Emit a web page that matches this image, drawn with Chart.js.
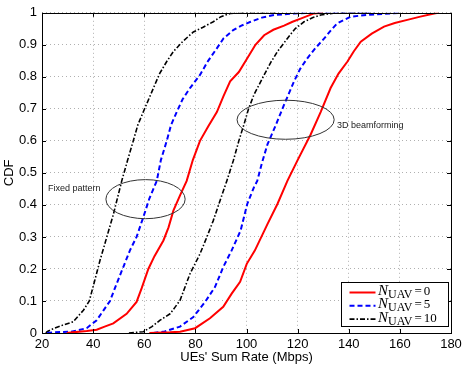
<!DOCTYPE html>
<html><head><meta charset="utf-8">
<script src="https://cdn.jsdelivr.net/npm/chart.js@4.4.1/dist/chart.umd.min.js"></script>
<style>html,body{margin:0;padding:0;background:#fff;}#wrap{width:474px;height:372px;}</style>
</head><body><div id="wrap"><canvas id="c" width="474" height="372"></canvas></div>
<script>
// ---- data ----
const xTicks = [20, 40, 60, 80, 100, 120, 140, 160, 180];
const yTicks = [0, 0.1, 0.2, 0.3, 0.4, 0.5, 0.6, 0.7, 0.8, 0.9, 1];
const legendLabels = ["0", "5", "10"];

// Fixed pattern, N_UAV = 10
const fixed10Rate = [21.5,22,24,28.3,32.2,36.2,38.5,40.5,42.7,45,47.9,51.2,53.5,55.7,57.5,59.6,63.6,66,68.8,71.4,75,79.2,83,87,90,93.6,100,112];
const fixed10Cdf  = [0,0.004,0.012,0.025,0.035,0.071,0.1,0.16,0.227,0.29,0.37,0.475,0.54,0.6,0.65,0.69,0.765,0.81,0.848,0.879,0.91,0.94,0.955,0.972,0.988,0.998,1,1];
// Fixed pattern, N_UAV = 5
const fixed5Rate = [22,24.4,31.4,37.5,39,41.4,44,46.6,49,51.8,54.4,57,59.6,62,64.9,66.5,68.8,70.5,72.7,75,77.9,81.8,85,88.4,91,94.8,98,101.6,106,110.8,118.6,125,150];
const fixed5Cdf  = [0,0.002,0.004,0.015,0.025,0.04,0.07,0.1,0.15,0.206,0.258,0.3,0.361,0.42,0.475,0.54,0.6,0.65,0.69,0.73,0.765,0.806,0.85,0.889,0.92,0.946,0.96,0.972,0.985,0.993,0.998,1,1];
// Fixed pattern, N_UAV = 0
const fixed0Rate = [29.7,32,37.5,41.4,44.5,47.9,53.1,57,59,61.6,64,67.5,69.5,71.4,74,76.6,79,81.8,85,88.4,91,93.6,97,100.3,103.5,106.9,110.5,114.7,118,121.2,126.4,130];
const fixed0Cdf  = [0,0.002,0.006,0.01,0.02,0.03,0.06,0.097,0.14,0.2,0.24,0.289,0.33,0.382,0.43,0.475,0.54,0.6,0.645,0.69,0.74,0.786,0.815,0.858,0.9,0.93,0.947,0.96,0.972,0.982,0.998,1];
// 3D beamforming, N_UAV = 10
const beam10Rate = [54,59.6,63,66.2,70.1,72,74,77.9,81.8,84.5,87,89.5,92.3,94.8,97,99,100.8,102.9,106.9,109.5,112.1,116,119,122.5,126,129,135,148];
const beam10Cdf  = [0,0.004,0.02,0.04,0.06,0.08,0.102,0.185,0.247,0.3,0.351,0.41,0.475,0.537,0.6,0.651,0.7,0.744,0.806,0.845,0.879,0.92,0.95,0.972,0.985,0.993,1,1];
// 3D beamforming, N_UAV = 5
const beam5Rate = [63.6,68,74,79.2,83.8,87.7,90.9,94.2,97.7,100.3,102.9,104.2,106,108.2,111.5,114.7,118.6,121,123.8,127,130.4,133,135.5,140.8,148,156.5,160];
const beam5Cdf  = [0,0.005,0.02,0.05,0.097,0.144,0.206,0.258,0.32,0.403,0.455,0.475,0.53,0.589,0.65,0.713,0.786,0.825,0.858,0.89,0.92,0.945,0.967,0.988,0.994,0.998,1];
// 3D beamforming, N_UAV = 0
const beam0Rate = [62,70,74,79.9,85.7,90.9,94.2,97.5,100.1,103.3,108.2,112.1,116,120,125.1,129,132.9,136,139.5,142,144.7,149,153.8,158,162.9,168,173.4,175];
const beam0Cdf  = [0,0.002,0.004,0.015,0.046,0.082,0.123,0.16,0.216,0.258,0.34,0.403,0.475,0.54,0.62,0.69,0.765,0.81,0.848,0.88,0.91,0.935,0.957,0.968,0.978,0.988,0.998,1];

// annotations (data coordinates)
const ellipses = [
  {label: "Fixed pattern", cx: 60.5, cy: 0.418, rx: 15.5, ry: 0.061, tx: 22.3, ty: 0.45},
  {label: "3D beamforming", cx: 115.3, cy: 0.666, rx: 19.0, ry: 0.061, tx: 135.4, ty: 0.649}
];

// ---- styles ----
const RED = '#ff0000', BLUE = '#0000ff', BLACK = '#000000';
const styleFor = {
  '0':  {color: RED,   dash: [],            width: 2},
  '5':  {color: BLUE,  dash: [5, 3],        width: 2},
  '10': {color: BLACK, dash: [5, 2, 1.5, 2], width: 1.6}
};
function pts(xs, ys) { return xs.map((x, i) => ({x: x, y: ys[i]})); }
function ds(key, xs, ys) {
  const s = styleFor[key];
  return {label: 'N_UAV=' + key, data: pts(xs, ys), borderColor: s.color, backgroundColor: s.color,
    borderDash: s.dash, borderWidth: s.width, pointRadius: 0, tension: 0, fill: false};
}

const FONT = '"Liberation Sans", Arial, Helvetica, sans-serif';
const SERIF = '"Liberation Serif", "Times New Roman", serif';

const framePlugin = {
  id: 'frame',
  afterDatasetsDraw(chart) {
    const ctx = chart.ctx, a = chart.chartArea;
    const xs = chart.scales.x, ys = chart.scales.y;
    ctx.save();
    // annotations
    ctx.strokeStyle = '#333'; ctx.lineWidth = 1; ctx.setLineDash([]);
    ctx.fillStyle = '#222'; ctx.font = '9px ' + FONT; ctx.textBaseline = 'middle'; ctx.textAlign = 'left';
    ellipses.forEach(e => {
      const cx = xs.getPixelForValue(e.cx), cy = ys.getPixelForValue(e.cy);
      const rx = Math.abs(xs.getPixelForValue(e.cx + e.rx) - cx);
      const ry = Math.abs(ys.getPixelForValue(e.cy + e.ry) - cy);
      ctx.beginPath(); ctx.ellipse(cx, cy, rx, ry, 0, 0, Math.PI * 2); ctx.stroke();
      ctx.fillText(e.label, xs.getPixelForValue(e.tx), ys.getPixelForValue(e.ty));
    });
    // box
    ctx.strokeStyle = '#000'; ctx.lineWidth = 1;
    ctx.strokeRect(Math.round(a.left) + 0.5, Math.round(a.top) + 0.5, Math.round(a.right - a.left), Math.round(a.bottom - a.top));
    // inward ticks
    ctx.beginPath();
    xTicks.forEach(v => {
      const p = Math.round(xs.getPixelForValue(v)) + 0.5;
      ctx.moveTo(p, a.bottom); ctx.lineTo(p, a.bottom - 4);
      ctx.moveTo(p, a.top); ctx.lineTo(p, a.top + 4);
    });
    yTicks.forEach(v => {
      const p = Math.round(ys.getPixelForValue(v)) + 0.5;
      ctx.moveTo(a.left, p); ctx.lineTo(a.left + 4, p);
      ctx.moveTo(a.right, p); ctx.lineTo(a.right - 4, p);
    });
    ctx.stroke();
    // legend
    const lx = 341.5, ly = 282.5, lw = 107, lh = 44;
    ctx.fillStyle = '#fff'; ctx.fillRect(lx, ly, lw, lh);
    ctx.strokeRect(lx, ly, lw, lh);
    legendLabels.forEach((k, i) => {
      const s = styleFor[k];
      const y = ly + 10 + i * 13.3;
      ctx.beginPath(); ctx.strokeStyle = s.color; ctx.lineWidth = s.width; ctx.setLineDash(s.dash);
      ctx.moveTo(lx + 8, y); ctx.lineTo(lx + 34, y); ctx.stroke();
      ctx.setLineDash([]);
      ctx.fillStyle = '#000'; ctx.textBaseline = 'alphabetic'; ctx.textAlign = 'left';
      let tx = lx + 36.5;
      ctx.font = 'italic 15px ' + SERIF;
      ctx.fillText('N', tx, y + 2.5); tx += ctx.measureText('N').width;
      ctx.font = '12px ' + SERIF;
      ctx.fillText('UAV', tx, y + 5.5); tx += ctx.measureText('UAV').width + 2;
      ctx.font = '13px ' + SERIF;
      ctx.fillText('=', tx, y + 2.5); tx += ctx.measureText('=').width + 2;
      ctx.fillText(k, tx, y + 2.5);
    });
    ctx.restore();
  }
};

new Chart(document.getElementById('c'), {
  type: 'line',
  data: {datasets: [
    ds('0', fixed0Rate, fixed0Cdf), ds('5', fixed5Rate, fixed5Cdf), ds('10', fixed10Rate, fixed10Cdf),
    ds('0', beam0Rate, beam0Cdf), ds('5', beam5Rate, beam5Cdf), ds('10', beam10Rate, beam10Cdf)
  ]},
  options: {
    responsive: false, animation: false, devicePixelRatio: 1,
    layout: {padding: {left: 0, right: 23, top: 11, bottom: 0}},
    plugins: {legend: {display: false}, tooltip: {enabled: false}},
    scales: {
      x: {type: 'linear', min: 20, max: 180,
        afterBuildTicks: s => { s.ticks = xTicks.map(v => ({value: v})); },
        afterFit: s => { s.height = 39; },
        border: {display: false, dash: [1, 3]},
        grid: {color: '#b0b0b0', lineWidth: 1, drawTicks: false},
        ticks: {color: '#000', font: {family: FONT, size: 13}, padding: 4, maxRotation: 0},
        title: {display: true, text: "UEs' Sum Rate (Mbps)", color: '#000', font: {family: FONT, size: 13}, padding: {top: 0, bottom: 7}}
      },
      y: {type: 'linear', min: 0, max: 1,
        afterBuildTicks: s => { s.ticks = yTicks.map(v => ({value: v})); },
        afterFit: s => { s.width = 42; },
        border: {display: false, dash: [1, 3]},
        grid: {color: '#b0b0b0', lineWidth: 1, drawTicks: false},
        ticks: {color: '#000', font: {family: FONT, size: 13}, padding: 5, callback: v => String(v)},
        title: {display: true, text: 'CDF', color: '#000', font: {family: FONT, size: 13}, padding: {top: 2, bottom: 0}}
      }
    }
  },
  plugins: [framePlugin]
});
</script>
</body></html>
